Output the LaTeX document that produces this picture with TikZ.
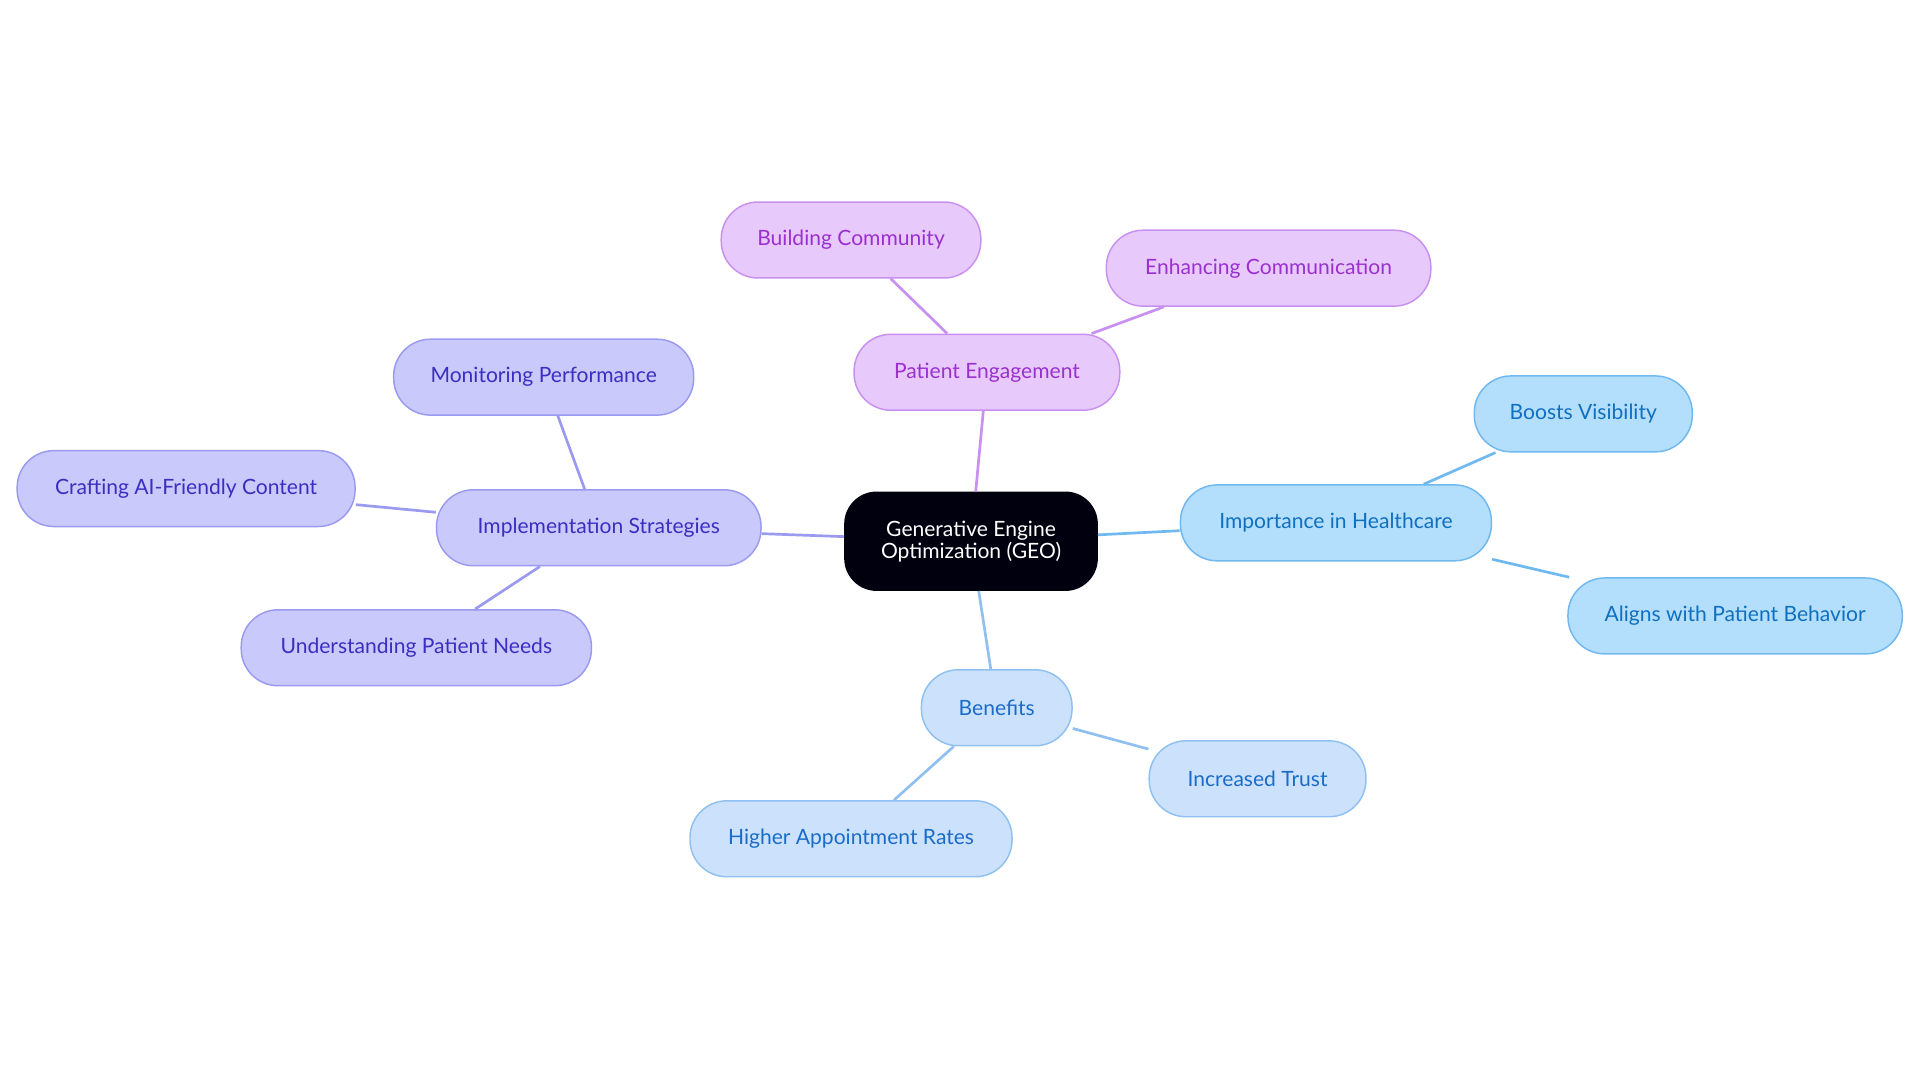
\documentclass[tikz,border=0pt]{standalone}
\usepackage{fontspec}
\setmainfont{Lato}
\begin{document}
\begin{tikzpicture}[x=0.5pt,y=-0.5pt,
 box/.style={draw,line width=0.6pt,rounded corners=15pt,minimum height=31pt,inner sep=0pt,font=\fontsize{8.6}{10}\selectfont,align=center},
 impl/.style={box,fill=implF,draw=implD,text=implT},
 pat/.style={box,fill=patF,draw=patD,text=patT},
 imp/.style={box,fill=impF,draw=impD,text=impT},
 ben/.style={box,fill=benF,draw=benD,text=benT},
 ln/.style={line width=1.1pt}]
\definecolor{implF}{HTML}{C9C9FC}\definecolor{implD}{HTML}{9A9AF0}\definecolor{implT}{HTML}{3A2FC0}
\definecolor{patF}{HTML}{E8C9FC}\definecolor{patD}{HTML}{C890F0}\definecolor{patT}{HTML}{9B30D0}
\definecolor{impF}{HTML}{B3DEFC}\definecolor{impD}{HTML}{70B8F0}\definecolor{impT}{HTML}{1070C0}
\definecolor{benF}{HTML}{CCE2FC}\definecolor{benD}{HTML}{90C0F0}\definecolor{benT}{HTML}{1A6CC8}
\useasboundingbox (0,0) rectangle (1568,884);
\node[box,fill=black!90!blue!60!black,draw=black!90!blue!60!black,text=white,minimum width=103pt,minimum height=40pt,rounded corners=13pt] (c) at (793,442) {Generative Engine\\[-1pt]Optimization (GEO)};
\node[impl,minimum width=132.5pt] (is) at (489,431) {Implementation Strategies};
\node[impl,minimum width=122.5pt] (mp) at (444,308) {Monitoring Performance};
\node[impl,minimum width=138pt] (ca) at (152,399) {Crafting AI-Friendly Content};
\node[impl,minimum width=143pt] (up) at (340,529) {Understanding Patient Needs};
\node[pat,minimum width=108.5pt] (pe) at (806,304) {Patient Engagement};
\node[pat,minimum width=106pt] (bc) at (695,196) {Building Community};
\node[pat,minimum width=132.5pt] (ec) at (1036,219) {Enhancing Communication};
\node[imp,minimum width=127pt] (ih) at (1091,427) {Importance in Healthcare};
\node[imp,minimum width=89pt] (bv) at (1293,338) {Boosts Visibility};
\node[imp,minimum width=136.5pt] (ap) at (1417,503) {Aligns with Patient Behavior};
\node[ben,minimum width=61.5pt] (be) at (814,578) {Benefits};
\node[ben,minimum width=88.5pt] (it) at (1027,636) {Increased Trust};
\node[ben,minimum width=131.5pt] (ha) at (695,685) {Higher Appointment Rates};
\begin{scope}[on background layer/.style={}]
\end{scope}
\draw[ln,implD] (c) -- (is); \draw[ln,implD] (is) -- (mp); \draw[ln,implD] (is) -- (ca); \draw[ln,implD] (is) -- (up);
\draw[ln,patD] (c) -- (pe); \draw[ln,patD] (pe) -- (bc); \draw[ln,patD] (pe) -- (ec);
\draw[ln,impD] (c) -- (ih); \draw[ln,impD] (ih) -- (bv); \draw[ln,impD] (ih) -- (ap);
\draw[ln,benD] (c) -- (be); \draw[ln,benD] (be) -- (it); \draw[ln,benD] (be) -- (ha);
\end{tikzpicture}
\end{document}
